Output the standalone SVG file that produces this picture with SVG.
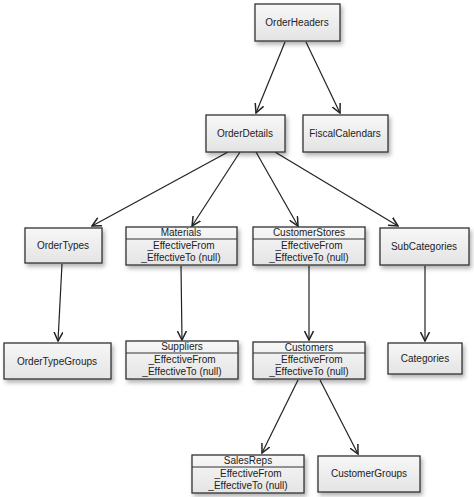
<svg xmlns="http://www.w3.org/2000/svg" width="474" height="497" viewBox="0 0 474 497">
<defs>
<linearGradient id="g" x1="0" y1="0" x2="0" y2="1"><stop offset="0" stop-color="#f7f7f7"/><stop offset="1" stop-color="#e4e4e4"/></linearGradient>
<filter id="sh" x="-10%" y="-10%" width="130%" height="150%"><feDropShadow dx="2" dy="3" stdDeviation="2" flood-color="#000" flood-opacity="0.3"/></filter>
<marker id="arr" viewBox="0 0 10 10" refX="9" refY="5" markerWidth="10" markerHeight="10" markerUnits="userSpaceOnUse" orient="auto"><polyline points="0,0.5 9,5 0,9.5" fill="none" stroke="#222" stroke-width="1.5"/></marker>
</defs>
<style>
rect.b{fill:url(#g);stroke:#333;stroke-width:1.3;filter:url(#sh)}
line.d{stroke:#333;stroke-width:1}
text{font-family:"Liberation Sans",Arial,sans-serif;font-size:10px;fill:#222;text-anchor:middle}
.c line{stroke:#222;stroke-width:1.2;marker-end:url(#arr)}
</style>
<rect width="474" height="497" fill="#fff"/>
<g class="c" id="connectors">
<line x1="285" y1="42" x2="256" y2="113"/>
<line x1="306" y1="42" x2="340" y2="113"/>
<line x1="228" y1="152" x2="92" y2="226"/>
<line x1="240" y1="152" x2="192" y2="226"/>
<line x1="256" y1="152" x2="298" y2="226"/>
<line x1="275" y1="152" x2="398" y2="226"/>
<line x1="62" y1="264" x2="58" y2="341"/>
<line x1="181" y1="266" x2="182" y2="340"/>
<line x1="309" y1="266" x2="309" y2="340"/>
<line x1="425" y1="266" x2="425" y2="341"/>
<line x1="298" y1="380" x2="262" y2="453"/>
<line x1="320" y1="380" x2="358" y2="454"/>
</g>
<g id="OrderHeaders"><rect class="b" x="255" y="4" width="85" height="37"/><text x="297" y="26">OrderHeaders</text></g>
<g id="OrderDetails"><rect class="b" x="206" y="115" width="79" height="37"/><text x="245" y="137">OrderDetails</text></g>
<g id="FiscalCalendars"><rect class="b" x="303" y="115" width="85" height="37"/><text x="345" y="137">FiscalCalendars</text></g>
<g id="OrderTypes"><rect class="b" x="25" y="228" width="77" height="35"/><text x="63" y="249">OrderTypes</text></g>
<g id="Materials"><rect class="b" x="126" y="227" width="111" height="38"/><line class="d" x1="126" y1="239" x2="237" y2="239"/><text x="181" y="236">Materials</text><text x="181" y="249">_EffectiveFrom</text><text x="181" y="261">_EffectiveTo (null)</text></g>
<g id="CustomerStores"><rect class="b" x="253" y="227" width="112" height="38"/><line class="d" x1="253" y1="239" x2="365" y2="239"/><text x="309" y="236">CustomerStores</text><text x="309" y="249">_EffectiveFrom</text><text x="309" y="261">_EffectiveTo (null)</text></g>
<g id="SubCategories"><rect class="b" x="380" y="228" width="89" height="37"/><text x="424" y="250">SubCategories</text></g>
<g id="OrderTypeGroups"><rect class="b" x="4" y="343" width="107" height="36"/><text x="57" y="365">OrderTypeGroups</text></g>
<g id="Suppliers"><rect class="b" x="126" y="341" width="112" height="38"/><line class="d" x1="126" y1="353" x2="238" y2="353"/><text x="182" y="350">Suppliers</text><text x="182" y="363">_EffectiveFrom</text><text x="182" y="375">_EffectiveTo (null)</text></g>
<g id="Customers"><rect class="b" x="253" y="342" width="112" height="37"/><line class="d" x1="253" y1="353" x2="365" y2="353"/><text x="309" y="351">Customers</text><text x="309" y="363">_EffectiveFrom</text><text x="309" y="375">_EffectiveTo (null)</text></g>
<g id="Categories"><rect class="b" x="388" y="343" width="74" height="31"/><text x="425" y="362">Categories</text></g>
<g id="SalesReps"><rect class="b" x="192" y="455" width="112" height="38"/><line class="d" x1="192" y1="467" x2="304" y2="467"/><text x="248" y="464">SalesReps</text><text x="248" y="477">_EffectiveFrom</text><text x="248" y="489">_EffectiveTo (null)</text></g>
<g id="CustomerGroups"><rect class="b" x="318" y="456" width="102" height="36"/><text x="369" y="477">CustomerGroups</text></g>
</svg>
